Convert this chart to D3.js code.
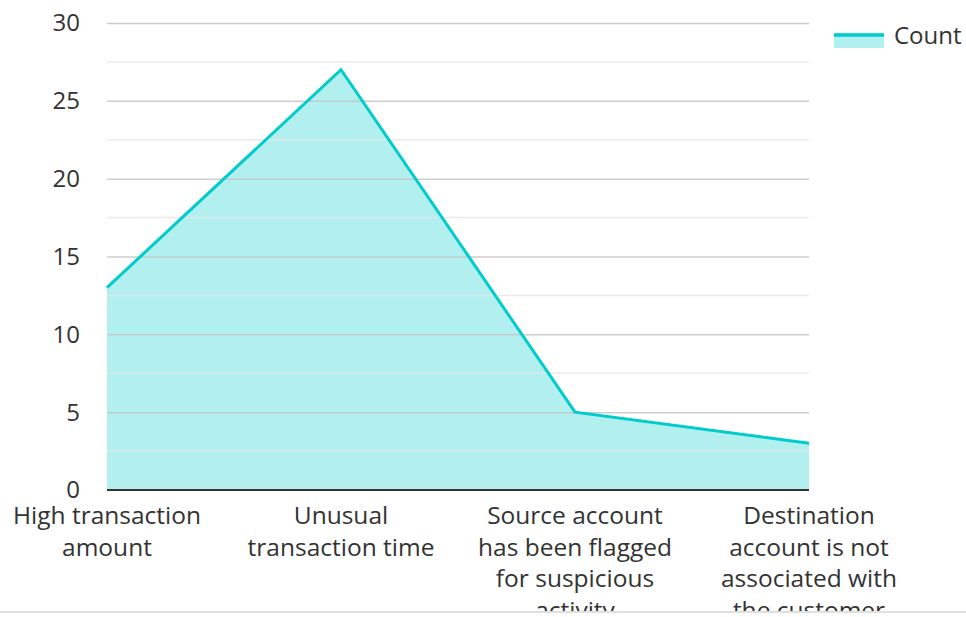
<!DOCTYPE html>
<html>
  <head>
    <meta charset="UTF-8">
    <title>Count</title>
    <style>
      body { margin: 0; background: #fff; }
      svg { display: block; font-family: 'Open Sans', 'Noto Sans', sans-serif; }
    </style>
  </head>
  <body>
    <div id='chart'></div>
    <script src='https://d3js.org/d3.v7.min.js'></script>
    <script>
      const categories = [
        'High transaction amount',
        'Unusual transaction time',
        'Source account has been flagged for suspicious activity',
        'Destination account is not associated with the customer'
      ];
      const counts = [13, 27, 5, 3];
      const yTicks = [0, 5, 10, 15, 20, 25, 30];
      const seriesName = 'Count';

      const width = 966;
      const height = 617;
      const lineColor = '#00cccc';
      const margin = { top: 23, right: 157, bottom: 127, left: 107 };

      const svg = d3.select('#chart')
        .append('svg')
        .attr('width', width)
        .attr('height', height);

      svg.append('defs').append('clipPath')
        .attr('id', 'clip')
        .append('rect')
        .attr('x', 0).attr('y', 0)
        .attr('width', width).attr('height', 611);

      const x = d3.scalePoint()
        .domain(categories)
        .range([margin.left, width - margin.right]);

      const y = d3.scaleLinear()
        .domain([0, 30])
        .range([height - margin.bottom, margin.top]);

      // area fill
      svg.append('path')
        .datum(counts)
        .attr('fill', lineColor)
        .attr('fill-opacity', 0.3)
        .attr('d', d3.area()
          .x((d, i) => x(categories[i]))
          .y0(y(0))
          .y1((d) => y(d)));

      // gridlines over the fill
      const minor = d3.range(2.5, 30, 5);
      svg.append('g')
        .selectAll('line')
        .data(minor)
        .enter().append('line')
        .attr('x1', x.range()[0])
        .attr('x2', x.range()[1])
        .attr('y1', (d) => y(d))
        .attr('y2', (d) => y(d))
        .attr('stroke', '#e6e6e6')
        .attr('stroke-width', 1.5)
        .attr('stroke-opacity', 0.8);

      svg.append('g')
        .call(d3.axisLeft(y)
          .tickValues(yTicks.slice(1))
          .tickSize(-(x.range()[1] - x.range()[0]))
          .tickFormat(''))
        .attr('transform', `translate(${x.range()[0]},0)`)
        .call((g) => g.select('.domain').remove())
        .call((g) => g.selectAll('.tick line')
          .attr('stroke', '#c4c4c4')
          .attr('stroke-width', 1.5)
          .attr('stroke-opacity', 0.85));

      svg.append('path')
        .datum(counts)
        .attr('fill', 'none')
        .attr('stroke', lineColor)
        .attr('stroke-width', 3)
        .attr('d', d3.line()
          .x((d, i) => x(categories[i]))
          .y((d) => y(d)));

      // zero axis
      svg.append('line')
        .attr('x1', x.range()[0])
        .attr('x2', x.range()[1])
        .attr('y1', y(0))
        .attr('y2', y(0))
        .attr('stroke', '#333')
        .attr('stroke-width', 2);

      // y tick labels
      svg.append('g')
        .selectAll('text')
        .data(yTicks)
        .enter().append('text')
        .attr('x', 80)
        .attr('y', (d) => y(d))
        .attr('dy', '0.35em')
        .attr('text-anchor', 'end')
        .attr('font-size', 24)
        .attr('fill', '#333')
        .text((d) => d);

      // x labels, wrapped
      const labels = svg.append('g')
        .attr('clip-path', 'url(#clip)');

      categories.forEach((c) => {
        const t = labels.append('text')
          .attr('x', x(c))
          .attr('y', y(0) + 34)
          .attr('text-anchor', 'middle')
          .attr('font-size', 24.5)
          .attr('fill', '#333');
        const words = c.split(' ');
        let line = [];
        let tspan = t.append('tspan').attr('x', x(c)).attr('dy', 0);
        words.forEach((w) => {
          line.push(w);
          tspan.text(line.join(' '));
          if (tspan.node().getComputedTextLength() > 208 && line.length > 1) {
            line.pop();
            tspan.text(line.join(' '));
            line = [w];
            tspan = t.append('tspan').attr('x', x(c)).attr('dy', 31.5).text(w);
          }
        });
      });

      // bottom border
      svg.append('line')
        .attr('x1', 0)
        .attr('x2', width)
        .attr('y1', 612)
        .attr('y2', 612)
        .attr('stroke', '#d4d4d4')
        .attr('stroke-width', 1.5);

      // legend
      const legend = svg.append('g')
        .attr('transform', 'translate(834,33)');
      legend.append('rect')
        .attr('width', 50)
        .attr('height', 15)
        .attr('fill', lineColor)
        .attr('fill-opacity', 0.3);
      legend.append('line')
        .attr('x1', 0).attr('x2', 50)
        .attr('y1', 2).attr('y2', 2)
        .attr('stroke', lineColor)
        .attr('stroke-width', 3.5);
      legend.append('text')
        .attr('x', 60)
        .attr('y', 3)
        .attr('dy', '0.35em')
        .attr('font-size', 24)
        .attr('fill', '#333')
        .text(seriesName);
    </script>
  </body>
</html>
